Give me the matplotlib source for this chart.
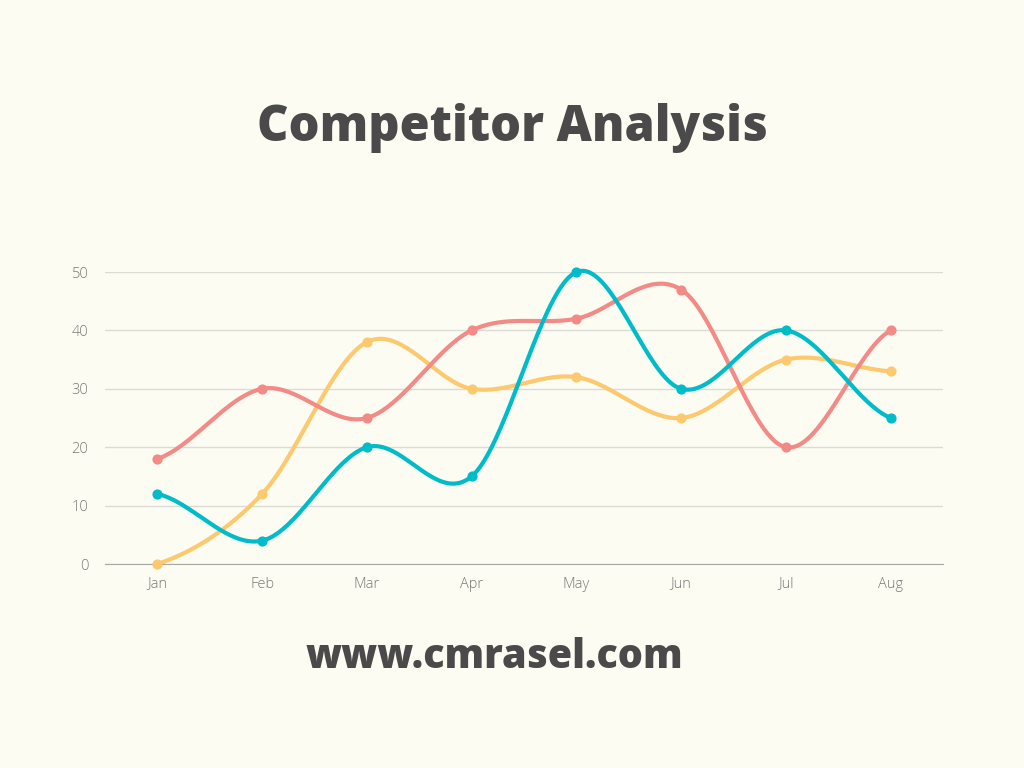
import numpy as np
import matplotlib.pyplot as plt

months = ["Jan", "Feb", "Mar", "Apr", "May", "Jun", "Jul", "Aug"]
red_vals = [18, 30, 25, 40, 42, 47, 20, 40]
yellow_vals = [0, 12, 38, 30, 32, 25, 35, 33]
teal_vals = [12, 4, 20, 15, 50, 30, 40, 25]
yticks = [0, 10, 20, 30, 40, 50]

BG = "#fcfcf3"


def catmull_rom(y, n=40):
    # smooth drawing path through the given points
    x = np.arange(len(y), dtype=float)
    y = np.asarray(y, dtype=float)
    xs, ys = [], []
    for i in range(len(y) - 1):
        p0 = y[i - 1] if i > 0 else y[i]
        p1, p2 = y[i], y[i + 1]
        p3 = y[i + 2] if i + 2 < len(y) else y[i + 1]
        t = np.linspace(0, 1, n, endpoint=False)
        m1 = (p2 - p0) / 2
        m2 = (p3 - p1) / 2
        h00 = 2 * t**3 - 3 * t**2 + 1
        h10 = t**3 - 2 * t**2 + t
        h01 = -2 * t**3 + 3 * t**2
        h11 = t**3 - t**2
        ys.append(h00 * p1 + h10 * m1 + h01 * p2 + h11 * m2)
        xs.append(x[i] + t)
    xs.append([x[-1]])
    ys.append([y[-1]])
    return np.concatenate(xs), np.concatenate(ys)


fig = plt.figure(figsize=(10.24, 7.68), dpi=100, facecolor=BG)
ax = fig.add_axes([105 / 1024, 1 - 564 / 768, (943 - 105) / 1024, (564 - 272) / 768])
ax.set_facecolor(BG)

x = np.arange(len(months))
for vals, col in [(yellow_vals, "#fdc96e"), (red_vals, "#f48a85"), (teal_vals, "#00bcc8")]:
    sx, sy = catmull_rom(vals)
    ax.plot(sx, sy, color=col, lw=3, clip_on=False, solid_capstyle="round")
    ax.scatter(x, vals, color=col, s=40, zorder=3, clip_on=False)

ax.set_xlim(-0.5, 7.5)
ax.set_ylim(0, 50)
ax.set_xticks(x)
ax.set_xticklabels(months)
ax.set_yticks(yticks)
ax.grid(axis="y", color="#dcdcd6", lw=1)
ax.set_axisbelow(True)
for s in ["top", "right", "left"]:
    ax.spines[s].set_visible(False)
ax.spines["bottom"].set_color("#a8a8a4")
ax.tick_params(axis="both", length=0, labelsize=10.5, labelcolor="#7a7a7a", pad=9)
ax.tick_params(axis="y", pad=12)
for lab in ax.get_xticklabels() + ax.get_yticklabels():
    lab.set_family("Open Sans")
    lab.set_fontweight("light")

fig.text(0.5, 1 - 128 / 768, "Competitor Analysis", ha="center", va="center",
         fontsize=35, fontweight="heavy", color="#4a4a4a", family="Open Sans")
fig.text(494 / 1024, 1 - 657 / 768, "www.cmrasel.com", ha="center", va="center",
         fontsize=28.5, fontweight="heavy", color="#4a4a4a", family="Open Sans")

fig.savefig("out.png", dpi=100, facecolor=BG)
